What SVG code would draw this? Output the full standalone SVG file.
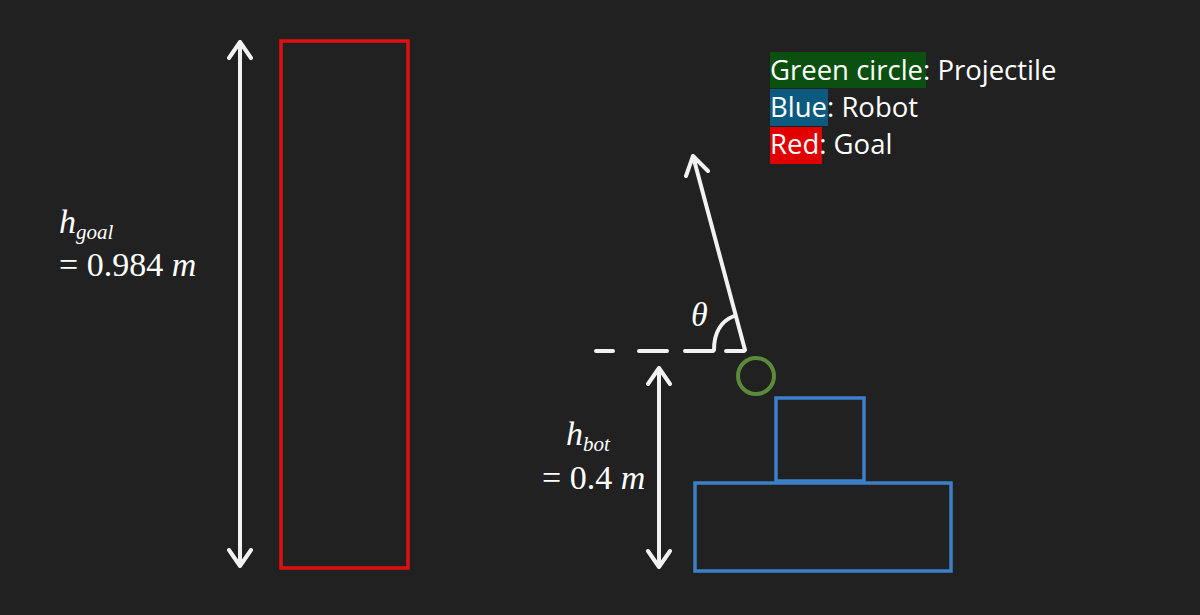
<svg xmlns="http://www.w3.org/2000/svg" width="1200" height="615" viewBox="0 0 1200 615">
<defs>
<style>
.w{stroke:#f2f2f2;stroke-width:4;fill:none;stroke-linecap:round;stroke-linejoin:round}
.t{font-family:"Open Sans","Liberation Sans",sans-serif;font-size:27.5px;fill:#fff}
.m{font-family:"Liberation Serif",serif;font-size:34px;fill:#fff}
.b{fill:none;stroke:#3b80c8;stroke-width:3.5}
</style>
</defs>
<rect width="1200" height="615" fill="#212121"/>
<g id="goal"><rect x="281" y="41" width="127" height="527" fill="none" stroke="#e01010" stroke-width="3.5"/></g>
<g id="robot-top"><rect x="776" y="398" width="88" height="83" class="b"/></g>
<g id="robot-base"><rect x="695" y="483" width="256" height="88" class="b"/></g>
<g id="projectile"><circle cx="756" cy="376" r="18" fill="none" stroke="#5a8a3a" stroke-width="4"/></g>
<g id="connectors">
<path class="w" d="M240 42V566M229 58L240 42L251 58M229 550L240 566L251 550"/>
<path class="w" d="M659 368V567M648 384L659 368L670 384M648 551L659 567L670 551"/>
<path class="w" d="M745 350L693 156M686 176L693 156L708 171"/>
<path class="w" d="M596 351H613M639 351H667M685 351H713M726 351H744"/>
<path class="w" d="M714 350Q714 324 734 316"/>
</g>
<g id="labels">
<text class="m" x="59" y="233" font-style="italic">h<tspan font-size="21" dy="6">goal</tspan></text>
<text class="m" x="59" y="276">= 0.984 <tspan font-style="italic">m</tspan></text>
<text class="m" x="566" y="445" font-style="italic">h<tspan font-size="21" dy="6">bot</tspan></text>
<text class="m" x="542" y="489">= 0.4 <tspan font-style="italic">m</tspan></text>
<text class="m" x="691" y="326" font-style="italic">θ</text>
</g>
<g id="legend">
<rect x="770" y="52" width="156" height="36" fill="#0b5010"/>
<rect x="770" y="89" width="58" height="37" fill="#0d5a80"/>
<rect x="770" y="127" width="52" height="37" fill="#e00000"/>
<text class="t" x="770" y="80">Green circle: Projectile</text>
<text class="t" x="770" y="117">Blue: Robot</text>
<text class="t" x="770" y="154">Red: Goal</text>
</g>
</svg>
